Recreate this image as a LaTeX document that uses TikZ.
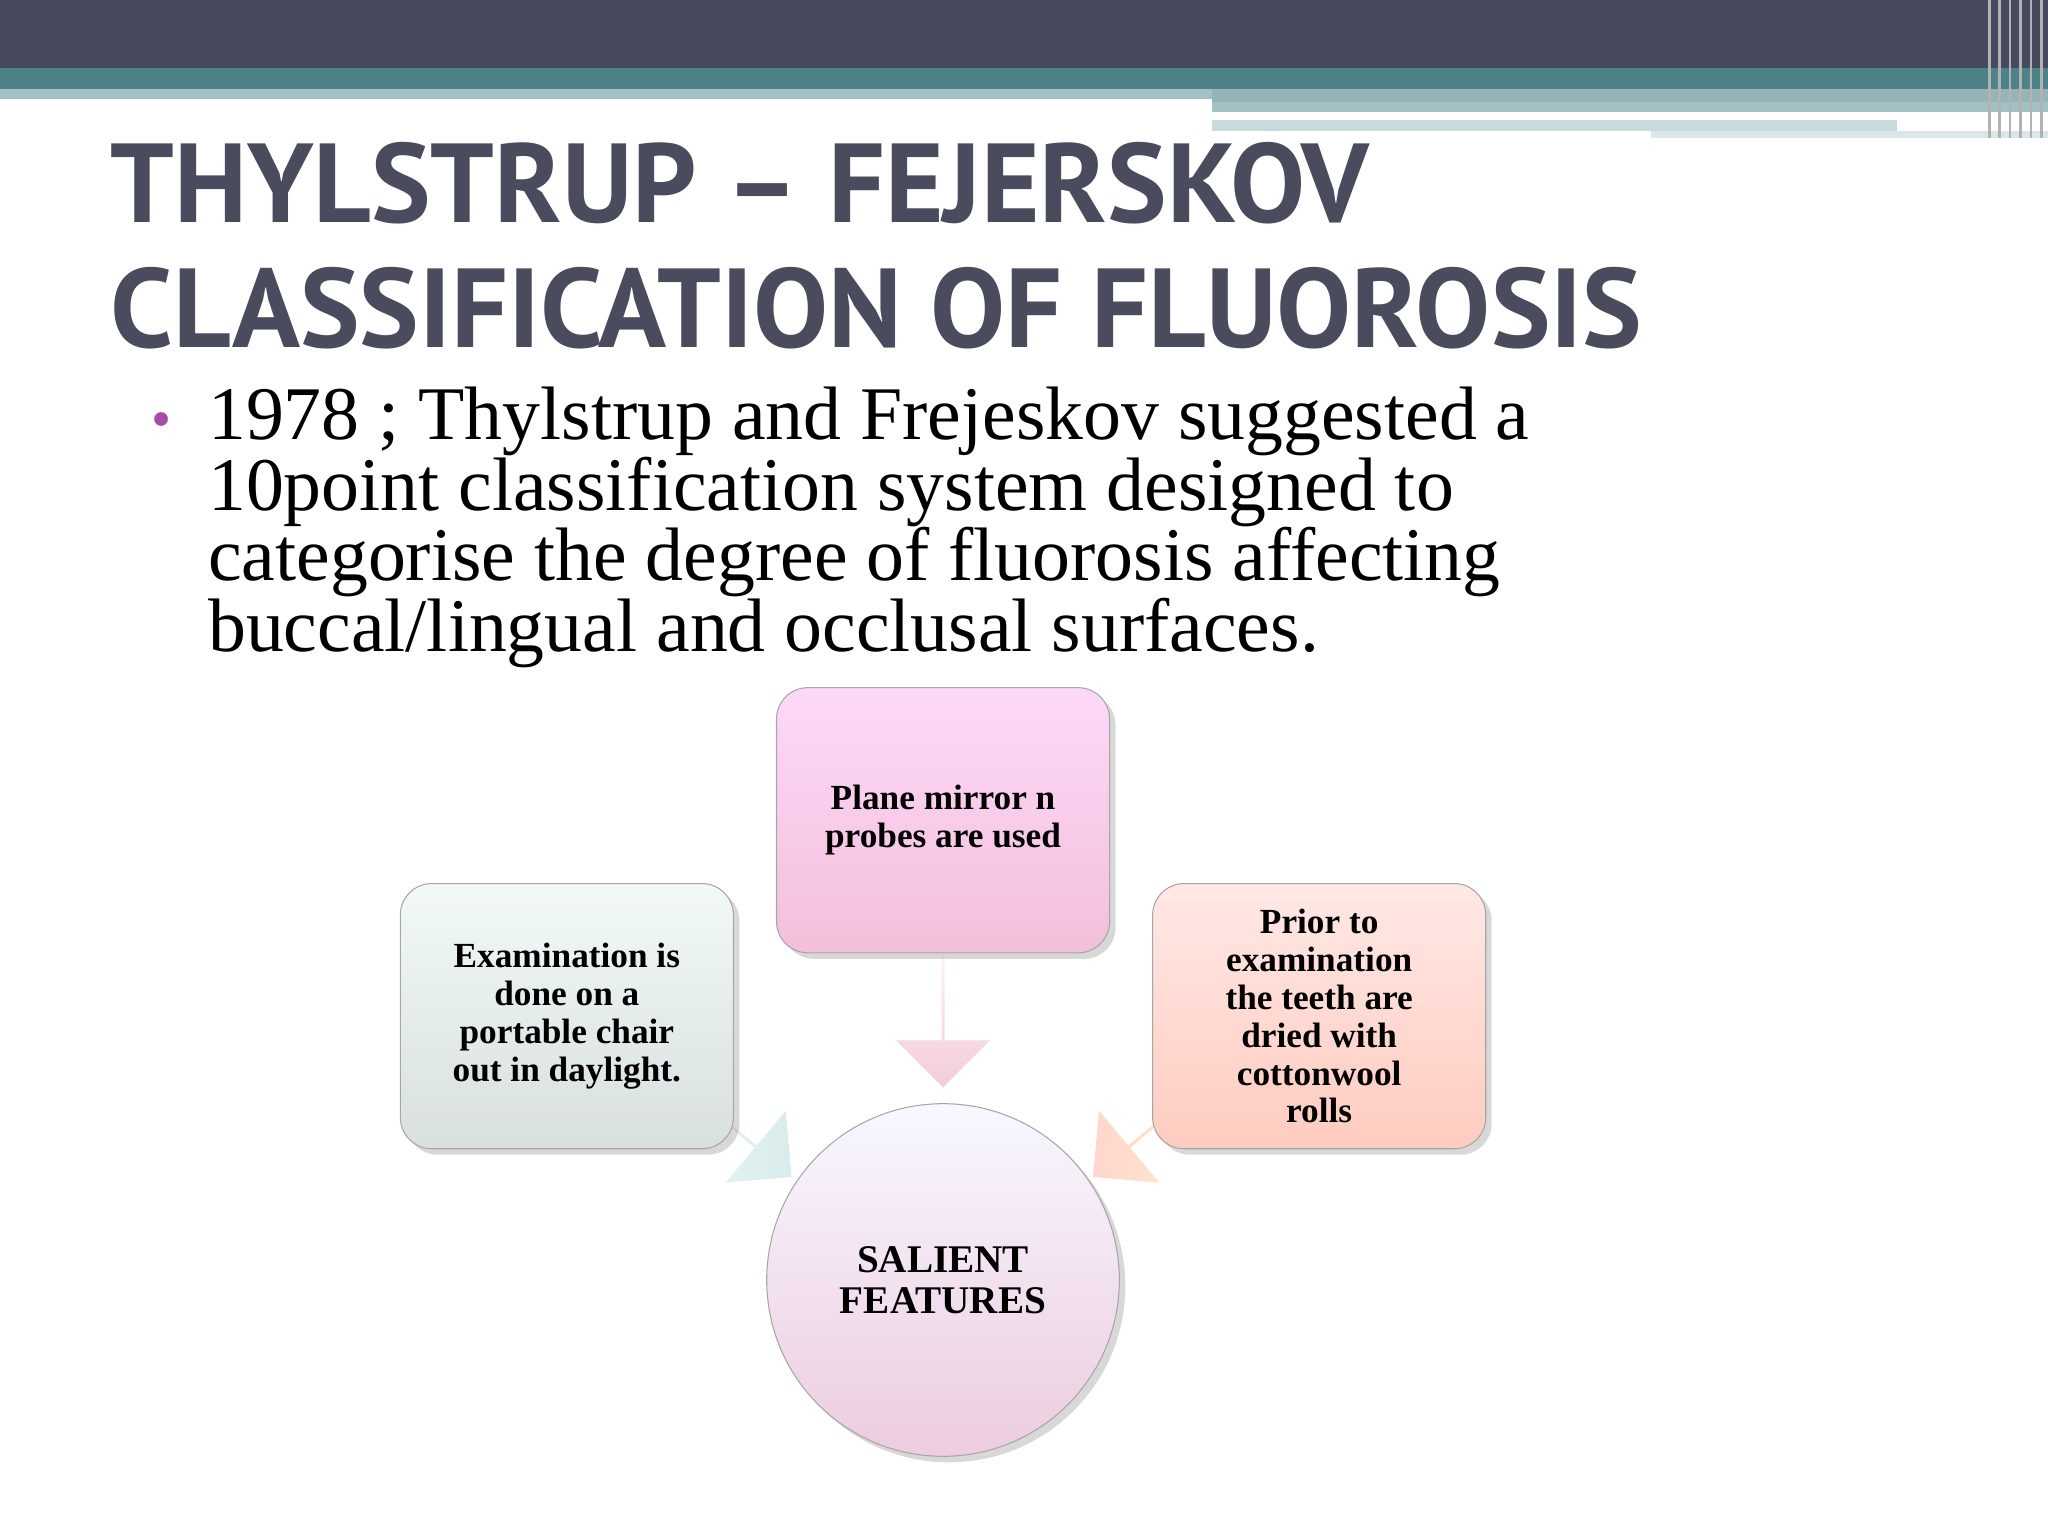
\documentclass[tikz,border=0pt]{standalone}
\usepackage{fontspec}
\setmainfont{Liberation Serif}
\newfontfamily\titlefont{PT Sans}
\usetikzlibrary{shapes.arrows,shadows}
\definecolor{hdark}{HTML}{474A5E}
\definecolor{hteal}{HTML}{4C8288}
\definecolor{hlight}{HTML}{A3C1C4}
\definecolor{titlec}{HTML}{4A4B5C}
\tikzset{
  box/.style={draw=gray!70,rounded corners=12pt,minimum width=127.5pt,minimum height=101.5pt,align=center,font=\fontsize{13.5}{14.5}\selectfont\bfseries,drop shadow={opacity=0.3}},
  blockarrow/.style={single arrow,draw=none,minimum height=51pt,minimum width=36pt,single arrow head extend=6pt,inner sep=0pt}
}
\begin{document}
\begin{tikzpicture}[x=0.5pt,y=-0.5pt]
\useasboundingbox (0,0) rectangle (1568,1176);
\fill[white] (0,0) rectangle (1568,1176);
% header
\fill[hdark] (0,0) rectangle (1568,52);
\fill[hteal] (0,52) rectangle (1568,68);
\fill[hlight] (0,68) rectangle (928,76);
\fill[hteal!60] (928,68) rectangle (1568,78);
\fill[hlight] (928,78) rectangle (1568,86);
\fill[hlight!60] (928,92) rectangle (1452,100);
\fill[hlight!40] (1264,100) rectangle (1568,106);
\foreach \x in {1522,1530,1538,1546,1554,1562}{\fill[gray!60] (\x,0) rectangle (\x+2,106);}
% title
\node[anchor=west,font=\titlefont\bfseries\fontsize{43}{48}\selectfont,text=titlec,align=left,inner sep=0pt] (title) at (84,188) {THYLSTRUP – FEJERSKOV\\CLASSIFICATION OF FLUOROSIS};
% bullet
\node[text=violet!70,font=\fontsize{22}{26}\selectfont] (bul) at (124,326) {•};
\node[anchor=north west,align=left,inner sep=0pt,font=\fontsize{29}{27}\selectfont] (body) at (159,296) {1978 ; Thylstrup and Frejeskov suggested a\\10point classification system designed to\\categorise the degree of fluorosis affecting\\buccal/lingual and occlusal surfaces.};
% arrows
\node[blockarrow,top color=purple!5,bottom color=purple!20,rotate=-90] (a1) at (722,781) {};
\node[blockarrow,left color=teal!10,right color=teal!15,rotate=-40,minimum height=40pt] (a2) at (575,875) {};
\node[blockarrow,left color=orange!40!red!20,right color=orange!20,rotate=220,minimum height=40pt] (a3) at (868,875) {};
% boxes
\node[box,top color=purple!25!magenta!15,bottom color=magenta!25!purple!25] (top) at (722,628) {Plane mirror n\\probes are used};
\node[box,left color=teal!15,right color=teal!5,top color=teal!5,bottom color=teal!20!gray!25] (left) at (434,778) {Examination is\\done on a\\portable chair\\out in daylight.};
\node[box,top color=orange!20!red!10,bottom color=orange!40!red!25] (right) at (1010,778) {Prior to\\examination\\the teeth are\\dried with\\cottonwool\\rolls};
% circle
\node[circle,draw=gray!70,minimum size=135pt,top color=blue!3,bottom color=blue!15!purple!20,align=center,font=\fontsize{15}{15.5}\selectfont\bfseries,drop shadow={opacity=0.3}] (c) at (722,980) {SALIENT\\FEATURES};
\end{tikzpicture}
\end{document}
